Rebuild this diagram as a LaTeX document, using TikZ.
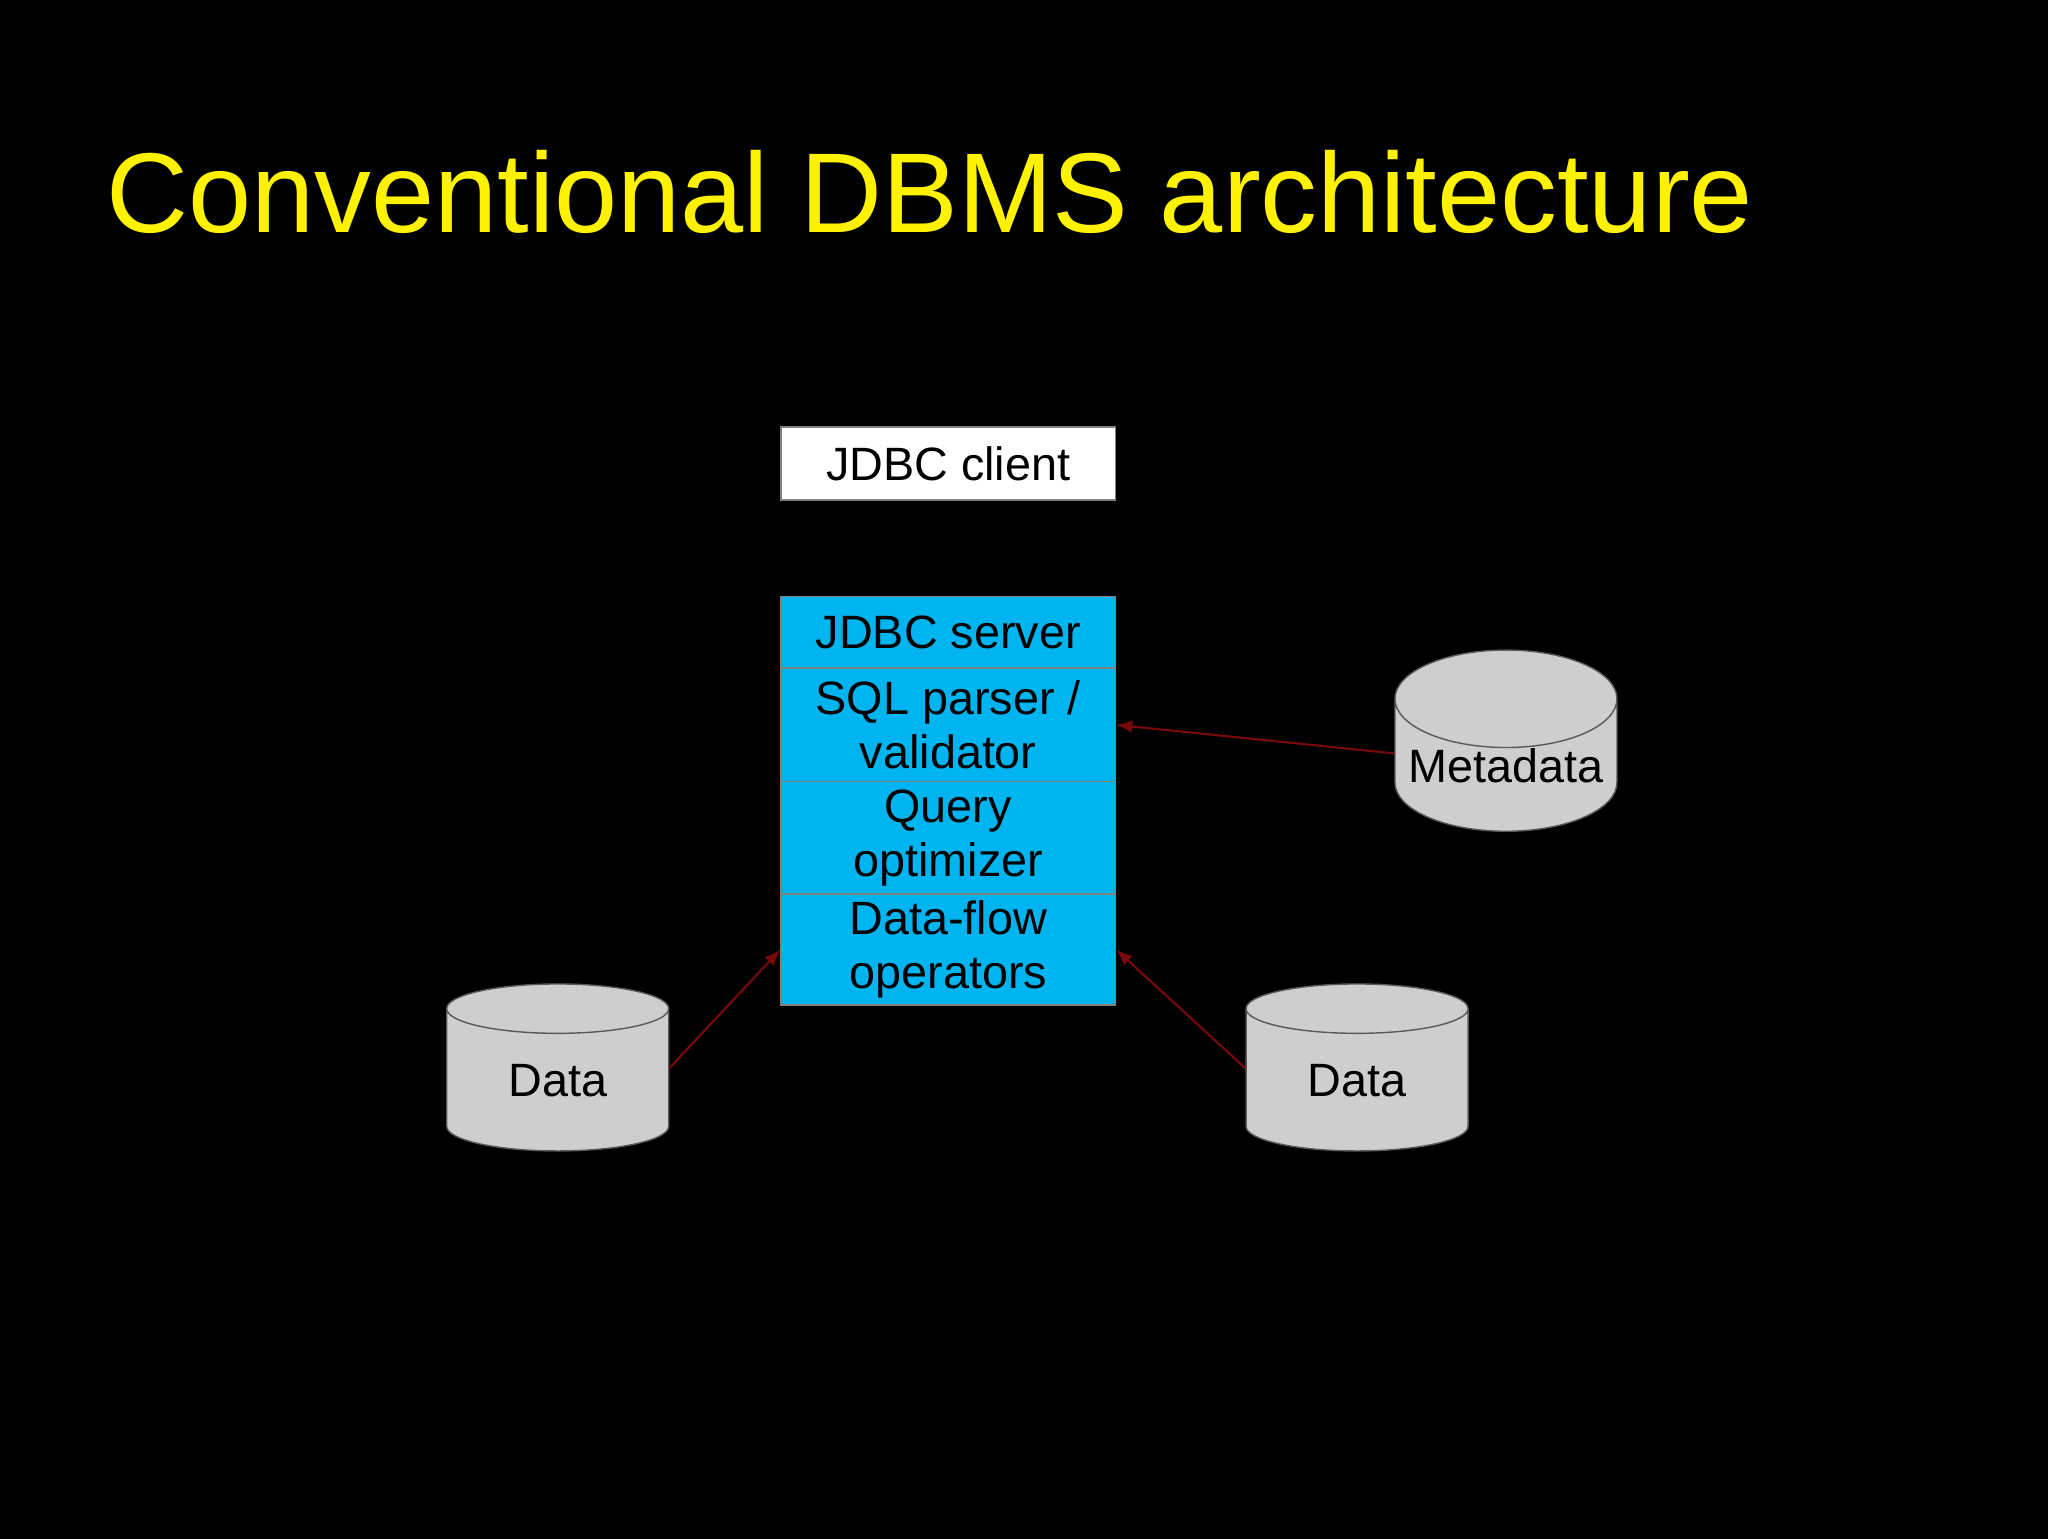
\documentclass[tikz,border=0pt]{standalone}
\usepackage{fontspec}
\setmainfont{Liberation Sans}
\usetikzlibrary{shapes.geometric}
\definecolor{layerblue}{HTML}{00B4F0}
\definecolor{diskgray}{HTML}{CFCDD0}
\definecolor{linkred}{HTML}{7A0A0A}
\begin{document}
\begin{tikzpicture}[x=0.01306cm, y=-0.01306cm,
				layer/.style = {draw = gray, fill = layerblue, minimum width = 3.343cm,
				align = center, inner sep = 0pt, font = \fontsize{13.3}{15.2}\selectfont},
				disk/.style = {cylinder, shape border rotate = 90, aspect = 0.5,
				draw = gray!70!black, fill = diskgray, minimum width = 2.22cm,
				minimum height = 1.67cm, inner sep = 0pt, font = \fontsize{13.3}{15}\selectfont},
				link/.style = {draw = linkred, line width = 0.6pt, -latex}]

				\useasboundingbox [fill = black] (0,0) rectangle (1568,1178);

				\node [anchor = west, text = yellow, font = \fontsize{32.3}{38}\selectfont] (title) at (72,147) {Conventional DBMS architecture};

				\node [draw = gray, fill = white, minimum width = 3.343cm, minimum height = 0.73cm,
				font = \fontsize{13.3}{15}\selectfont] (client) at (726,355) {JDBC client};

				\node [layer, minimum height = 0.718cm] (server) at (726,484) {JDBC server};
				\node [layer, minimum height = 1.136cm] (sql) at (726,555) {SQL parser /\\validator};
				\node [layer, minimum height = 1.123cm] (opt) at (726,641.5) {Query\\optimizer};
				\node [layer, minimum height = 1.11cm] (flow) at (726,727) {Data-flow\\operators};

				\node [disk] (meta) at (1153,586) {Metadata};
				\node [disk] (dataL) at (427,827) {Data};
				\node [disk] (dataR) at (1039,827) {Data};

				\draw [link] ([yshift = 0.12cm] meta.west) -- (sql.east);
				\draw [link] ([yshift = 0.12cm] dataL.east) -- (flow.west);
				\draw [link] ([yshift = 0.12cm] dataR.west) -- (flow.east);
\end{tikzpicture}
\end{document}
